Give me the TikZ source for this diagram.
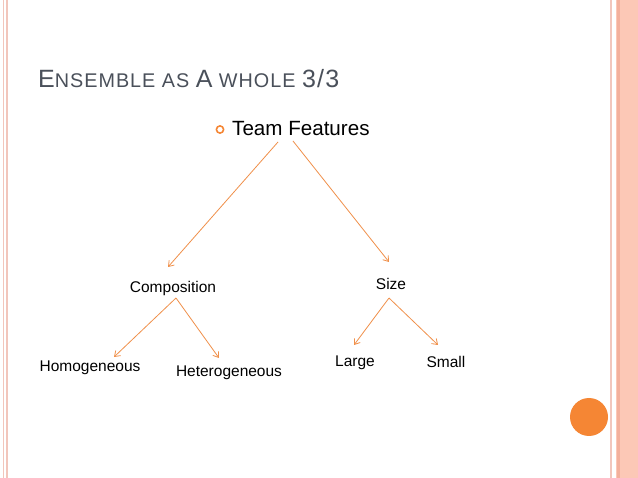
\documentclass[tikz,border=0pt]{standalone}
\usepackage{fontspec}
\setmainfont{Liberation Sans}
\usetikzlibrary{arrows.meta}
\definecolor{arr}{HTML}{F0904A}
\definecolor{dot}{HTML}{F58634}
\definecolor{band}{HTML}{FCC8B6}
\definecolor{bandd}{HTML}{F3B09C}
\definecolor{pinkline}{HTML}{F2C6BC}
\definecolor{ttl}{HTML}{4A505A}
\tikzset{
  lbl/.style={font=\fontsize{15.5}{18}\selectfont, inner sep=0pt, text=black},
  con/.style={draw=arr, line width=0.8pt, -{Straight Barb[length=5pt,width=7pt]}}
}
\newcommand{\bigc}{\fontsize{25}{28}\selectfont}
\newcommand{\smc}{\fontsize{19.8}{23}\selectfont}
\begin{document}
\begin{tikzpicture}[x=1pt,y=-1pt]
\useasboundingbox (0,0) rectangle (638,478);
\fill[white] (0,0) rectangle (638,478);
% borders
\draw[pinkline, line width=1.2pt] (3.5,0) -- (3.5,478);
\draw[pinkline, line width=1.2pt] (7,0) -- (7,478);
\draw[pinkline, line width=2.5pt] (611,0) -- (611,478);
\fill[band] (616,0) rectangle (638,478);
\fill[bandd] (617,0) rectangle (619.5,478);
% title
\node[anchor=base west, inner sep=0pt, text=ttl] (title) at (38,88)
 {\addfontfeature{LetterSpace=5}\bigc E\smc NSEMBLE AS \bigc A\smc{} WHOLE \bigc 3/3};
% bullet
\draw[dot, line width=1.6pt] (220,129.5) circle (3.6);
\node[anchor=base west, inner sep=0pt, font=\fontsize{20.6}{24}\selectfont] (team) at (232,136) {Team Features};
\coordinate (tl) at (278,142);
\coordinate (tr) at (293,141);
\node[lbl] (comp) at (173,288) {Composition};
\node[lbl] (size) at (391,284) {Size};
\node[lbl] (homo) at (90,368) {Homogeneous};
\node[lbl] (hete) at (229,373) {Heterogeneous};
\node[lbl] (large) at (355,363) {Large};
\node[lbl] (small) at (446,362) {Small};
\draw[con] (tl) -- (168,267);
\draw[con] (tr) -- (389,262);
\coordinate (cb) at (176,298);
\coordinate (sb) at (389,298);
\draw[con] (cb) -- (114,357);
\draw[con] (cb) -- (219,358);
\draw[con] (sb) -- (354,345);
\draw[con] (sb) -- (438,345);
\fill[dot] (589,417) circle (19);
\end{tikzpicture}
\end{document}
